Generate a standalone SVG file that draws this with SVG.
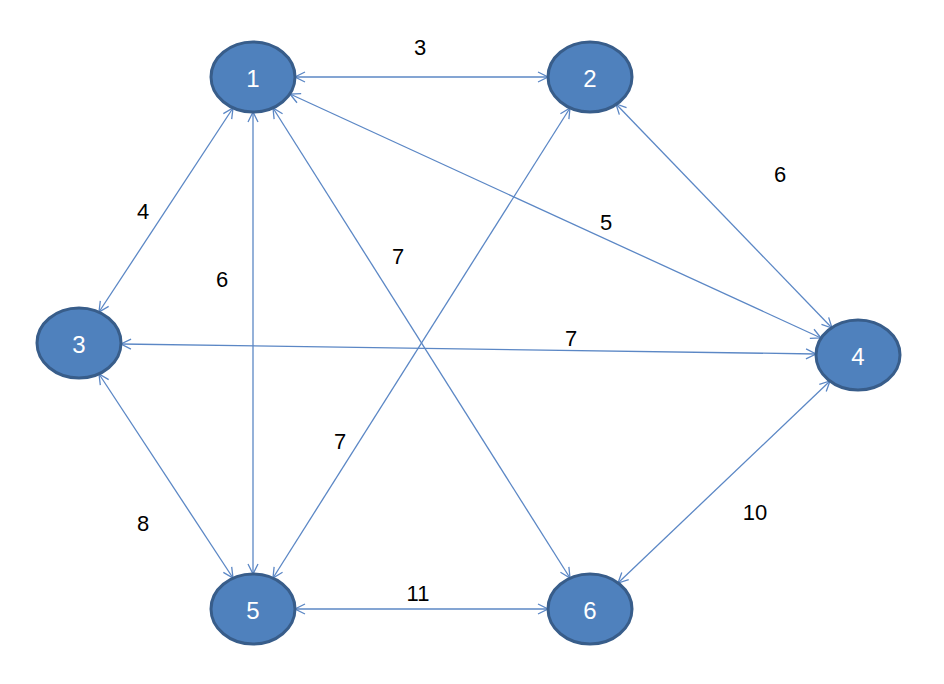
<svg xmlns="http://www.w3.org/2000/svg" width="944" height="684" viewBox="0 0 944 684">
<style>
.n ellipse{fill:#4F81BD;stroke:#385D8A;stroke-width:3}
.n text{fill:#fff;font:24px "Liberation Sans",Arial,sans-serif;text-anchor:middle;dominant-baseline:central}
#edges line{stroke:#5B87C5;stroke-width:1.3;marker-start:url(#a);marker-end:url(#a)}
.l{fill:#000;font:22px "Liberation Sans",Arial,sans-serif;text-anchor:middle;dominant-baseline:central}
</style>
<defs><marker id="a" viewBox="0 0 12 12" refX="11" refY="6" markerWidth="12" markerHeight="12" markerUnits="userSpaceOnUse" orient="auto-start-reverse"><path d="M1,1 L11,6 L1,11" fill="none" stroke="#5B87C5" stroke-width="1.3"/></marker></defs>
<rect width="944" height="684" fill="#fff"/>
<g id="edges">
<line x1="295" y1="77" x2="548" y2="77"/>
<line x1="233" y1="108" x2="99" y2="312"/>
<line x1="253" y1="112" x2="253" y2="574"/>
<line x1="273" y1="108" x2="570" y2="578"/>
<line x1="290" y1="94" x2="821" y2="338"/>
<line x1="570" y1="108" x2="273" y2="578"/>
<line x1="616" y1="104" x2="832" y2="328"/>
<line x1="121" y1="344" x2="816" y2="354"/>
<line x1="99" y1="374" x2="233" y2="578"/>
<line x1="830" y1="381" x2="618" y2="583"/>
<line x1="295" y1="609" x2="548" y2="609"/>
</g>
<g id="labels">
<text class="l" x="420" y="47">3</text><text class="l" x="780" y="174">6</text>
<text class="l" x="143" y="211">4</text><text class="l" x="606" y="222">5</text>
<text class="l" x="398" y="256">7</text><text class="l" x="222" y="279">6</text>
<text class="l" x="571" y="338">7</text><text class="l" x="340" y="441">7</text>
<text class="l" x="143" y="523">8</text><text class="l" x="755" y="512">10</text>
<text class="l" x="418" y="593">11</text>
</g>
<g id="n1" class="n"><ellipse cx="253" cy="77" rx="42" ry="35"/><text x="253" y="78">1</text></g>
<g id="n2" class="n"><ellipse cx="590" cy="77" rx="42" ry="35"/><text x="590" y="78">2</text></g>
<g id="n3" class="n"><ellipse cx="79" cy="343" rx="42" ry="35"/><text x="79" y="344">3</text></g>
<g id="n4" class="n"><ellipse cx="858" cy="355" rx="42" ry="35"/><text x="858" y="356">4</text></g>
<g id="n5" class="n"><ellipse cx="253" cy="609" rx="42" ry="35"/><text x="253" y="610">5</text></g>
<g id="n6" class="n"><ellipse cx="590" cy="609" rx="42" ry="35"/><text x="590" y="610">6</text></g>
</svg>
